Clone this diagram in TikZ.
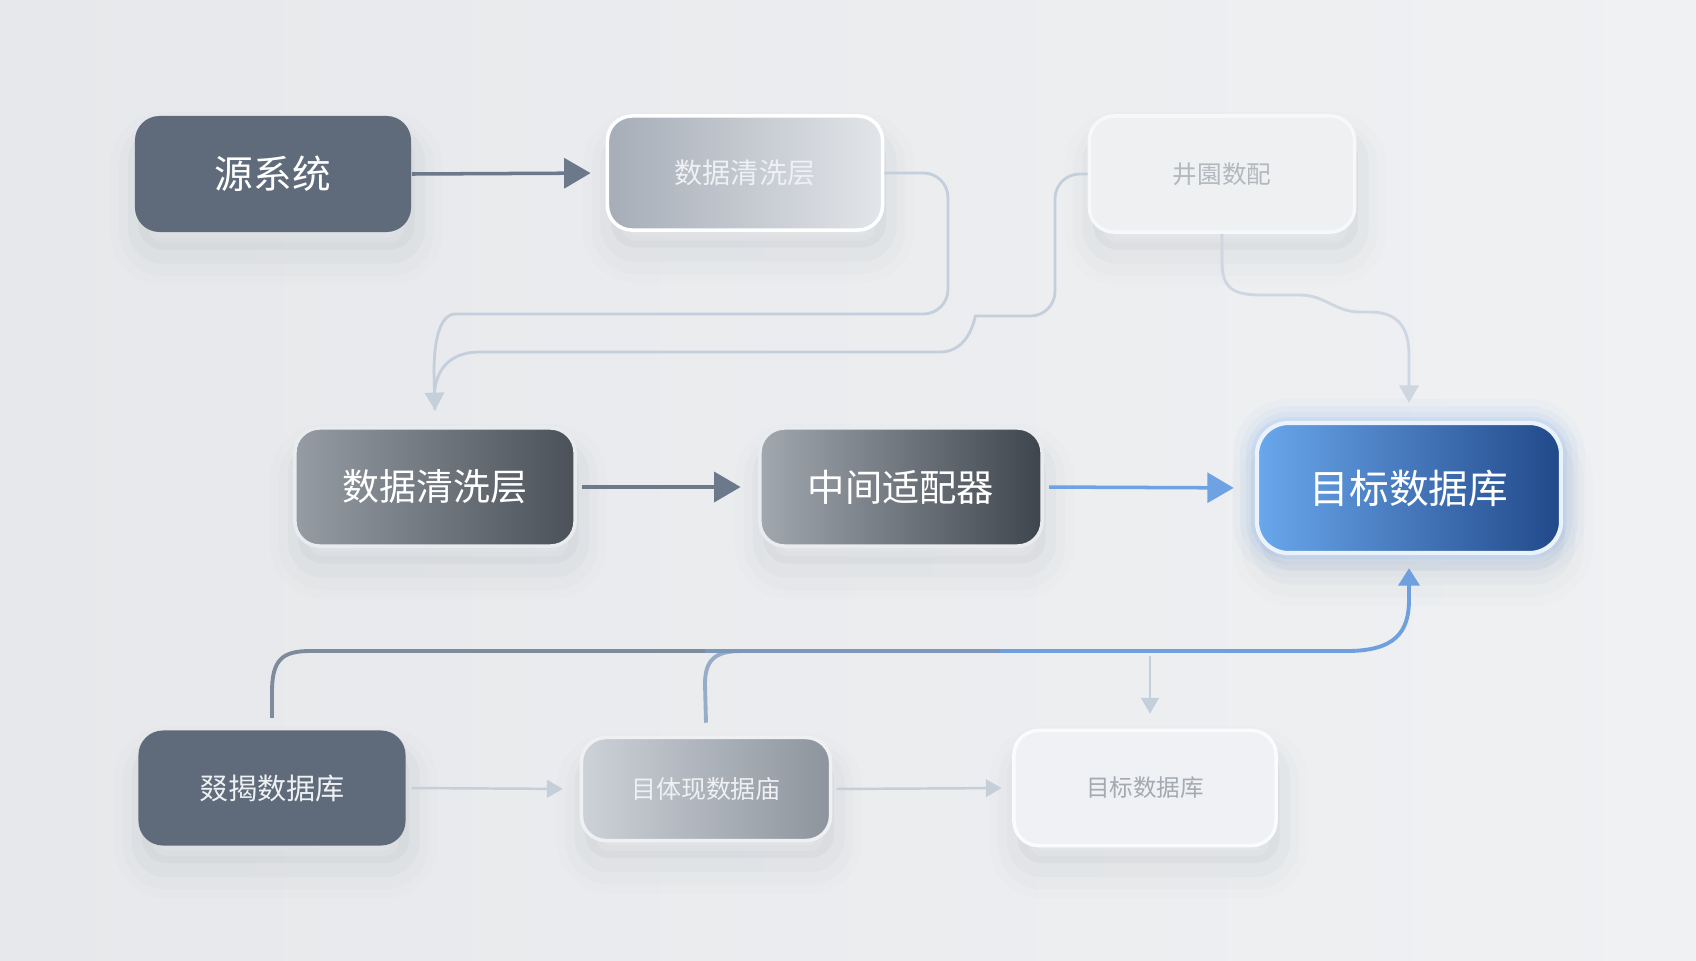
\documentclass[tikz,border=0pt]{standalone}
\usepackage{fontspec}
\newfontfamily\cjk{Noto Sans CJK SC}
\usetikzlibrary{arrows.meta, calc}

\definecolor{bgleft}{HTML}{E6E8EB}
\definecolor{bgright}{HTML}{F0F1F3}
\definecolor{shadowcol}{HTML}{6E7B8C}
\definecolor{slate}{HTML}{5F6B7A}
\definecolor{flowgrey}{HTML}{6C798A}
\definecolor{flowblue}{HTML}{6FA2E2}
\definecolor{faint}{HTML}{C6CFD9}
\definecolor{paleline}{HTML}{C4CFDC}
\definecolor{busgrey}{HTML}{7E8B9C}
\definecolor{busmid}{HTML}{7C97BA}
\definecolor{busblue}{HTML}{6EA0DF}
\definecolor{glowblue}{HTML}{6EA8F0}
\definecolor{paletext}{HTML}{EEF0F3}
\definecolor{rim}{HTML}{E9ECEF}
\definecolor{cleanA}{HTML}{A6ADB7}
\definecolor{cleanB}{HTML}{E2E5E9}
\definecolor{storefill}{HTML}{EEF0F2}
\definecolor{storerim}{HTML}{F7F8F9}
\definecolor{storetext}{HTML}{B3B8BE}
\definecolor{cleanC}{HTML}{959CA4}
\definecolor{cleanD}{HTML}{4B5159}
\definecolor{adaptA}{HTML}{A2A8B0}
\definecolor{adaptB}{HTML}{3F454D}
\definecolor{targetA}{HTML}{6AA7EC}
\definecolor{targetB}{HTML}{21498A}
\definecolor{targetrim}{HTML}{EAF2FC}
\definecolor{mirrorA}{HTML}{CDD2D8}
\definecolor{mirrorB}{HTML}{8D949D}
\definecolor{copyfill}{HTML}{F0F1F4}
\definecolor{copyrim}{HTML}{FAFBFC}
\definecolor{copytext}{HTML}{A4AAB1}

\tikzset{
  softshadow/.style={
    preaction={draw=shadowcol, line width=16pt, draw opacity=0.015, transform canvas={xshift=1pt, yshift=-7pt}},
    preaction={draw=shadowcol, line width=11pt, draw opacity=0.025, transform canvas={xshift=1pt, yshift=-7pt}},
    preaction={draw=shadowcol, line width=6pt, draw opacity=0.035, transform canvas={xshift=1pt, yshift=-6pt}},
    preaction={fill=shadowcol, fill opacity=0.06, transform canvas={xshift=1pt, yshift=-5pt}}},
  box/.style={rounded corners=7pt, inner sep=0pt, align=center, font=\cjk, softshadow},
  fs/.style={font=\cjk\fontsize{#1}{#1}\selectfont}
}

\begin{document}
\begin{tikzpicture}[x=0.01cm, y=-0.01cm,
  flow/.style={line width=1pt, -{Triangle[length=7.5pt, width=8.5pt]}},
  faintflow/.style={line width=0.7pt, faint, -{Triangle[length=4.5pt, width=5pt]}},
  curve/.style={line width=0.8pt, paleline},
  bus/.style={line width=1.1pt}
]

\shade[left color=bgleft, right color=bgright] (0,0) rectangle (1696,960);
\useasboundingbox (0,0) rectangle (1696,960);
% glow round the target
\foreach \g/\o in {24/0.035, 17/0.05, 11/0.07, 6/0.10, 2/0.14}
  \fill[glowblue, opacity=\o, rounded corners=9pt+\g*0.28pt] (1257-\g,423-\g) rectangle (1561+\g,553+\g);

% top row
\node[box, fs=11pt, fill=slate, text=white, minimum width=2.76cm, minimum height=1.16cm] (src) at (273,174) {源系统};
\node[box, fs=8pt, left color=cleanA, right color=cleanB, draw=white, line width=1pt, text=paletext, minimum width=2.75cm, minimum height=1.14cm] (clean1) at (745,173) {数据清洗层};
\node[box, fs=7pt, fill=storefill, draw=storerim, line width=1pt, text=storetext, minimum width=2.65cm, minimum height=1.16cm] (store) at (1222,174) {井園数配};

% middle row
\node[box, fs=10.5pt, left color=cleanC, right color=cleanD, draw=rim, line width=1pt, text=white, minimum width=2.8cm, minimum height=1.18cm] (clean2) at (435,487) {数据清洗层};
\node[box, fs=10.6pt, left color=adaptA, right color=adaptB, draw=rim, line width=1pt, text=white, minimum width=2.82cm, minimum height=1.18cm] (adapter) at (901,487) {中间适配器};
\node[box, rounded corners=9pt, fs=11.3pt, left color=targetA, right color=targetB, draw=targetrim, line width=1.2pt, text=white, minimum width=3.04cm, minimum height=1.3cm] (target) at (1409,488) {目标数据库};

% bottom row
\node[box, fs=8.3pt, fill=slate, text=paletext, minimum width=2.67cm, minimum height=1.15cm] (raw) at (272,788) {叕揭数据库};
\node[box, fs=7.1pt, left color=mirrorA, right color=mirrorB, draw=storefill, line width=1pt, text=paletext, minimum width=2.49cm, minimum height=1.03cm] (mirror) at (706,789) {目体现数据庙};
\node[box, fs=6.7pt, fill=copyfill, draw=copyrim, line width=1pt, text=copytext, minimum width=2.62cm, minimum height=1.15cm] (copy) at (1145,788) {目标数据库};

% straight arrows
\draw[flow, flowgrey, shorten >=4.3pt] (src.east) -- (clean1.west);
\draw[flow, flowgrey, shorten <=1.5pt, shorten >=5pt] (clean2.east) -- (adapter.west);
\draw[flow, flowblue, shorten <=1.5pt, shorten >=6pt] (adapter.east) -- (target.west);
\draw[faintflow, shorten <=1.5pt, shorten >=4.8pt] (raw.east) -- (mirror.west);
\draw[faintflow, shorten <=1.2pt, shorten >=3pt] (mirror.east) -- (copy.west);

% curves into the second cleaning layer
\coordinate (c2in) at ($(clean2.north)+(0,-16)$);
\draw[curve, -{Triangle[length=5pt, width=5.5pt]}] (clean1.east) [rounded corners=7pt] -- (948,173) -- (948,314) -- (480,314)
  [sharp corners] .. controls (440,314) and (434,340) .. (434,372) -- (c2in);
\draw[curve] (store.west) [rounded corners=7pt] -- (1055,174) -- (1055,316) -- (1000,316)
  [sharp corners] .. controls (975,316) and (970,352) .. (940,352) -- (480,352)
  .. controls (445,352) and (434,375) .. (434,400) -- (c2in);

% store to target
\coordinate (tgin) at ($(target.north)+(0,-18)$);
\draw[curve, paleline!85, -{Triangle[length=5pt, width=5.5pt]}] (store.south) -- (1222,262)
  .. controls (1222,290) and (1235,295) .. (1262,295) -- (1300,295)
  .. controls (1325,295) and (1335,312) .. (1360,312) -- (1370,312)
  .. controls (1400,312) and (1409,330) .. (1409,355) -- (tgin);

% bus back up to the target
\coordinate (rawout) at ($(raw.north)+(0,-12)$);
\coordinate (mirout) at ($(mirror.north)+(0,-13)$);
\coordinate (tgout) at ($(target.south)+(0,13)$);
\draw[bus, busgrey] (rawout) -- (272,692) .. controls (272,660) and (282,651) .. (310,651) -- (705,651);
\draw[bus, busmid!80] (mirout) -- (705,684) .. controls (705,660) and (715,651) .. (741,651);
\draw[bus, busmid] (705,651) -- (1000,651);
\draw[bus, busblue, -{Triangle[length=5pt, width=6pt]}] (1000,651) -- (1347,651)
  .. controls (1395,651) and (1409,632) .. (1409,600) -- (tgout);
\draw[faintflow, paleline] (1150,656) -- ($(copy.north)+(5,-15)$);

\end{tikzpicture}
\end{document}
